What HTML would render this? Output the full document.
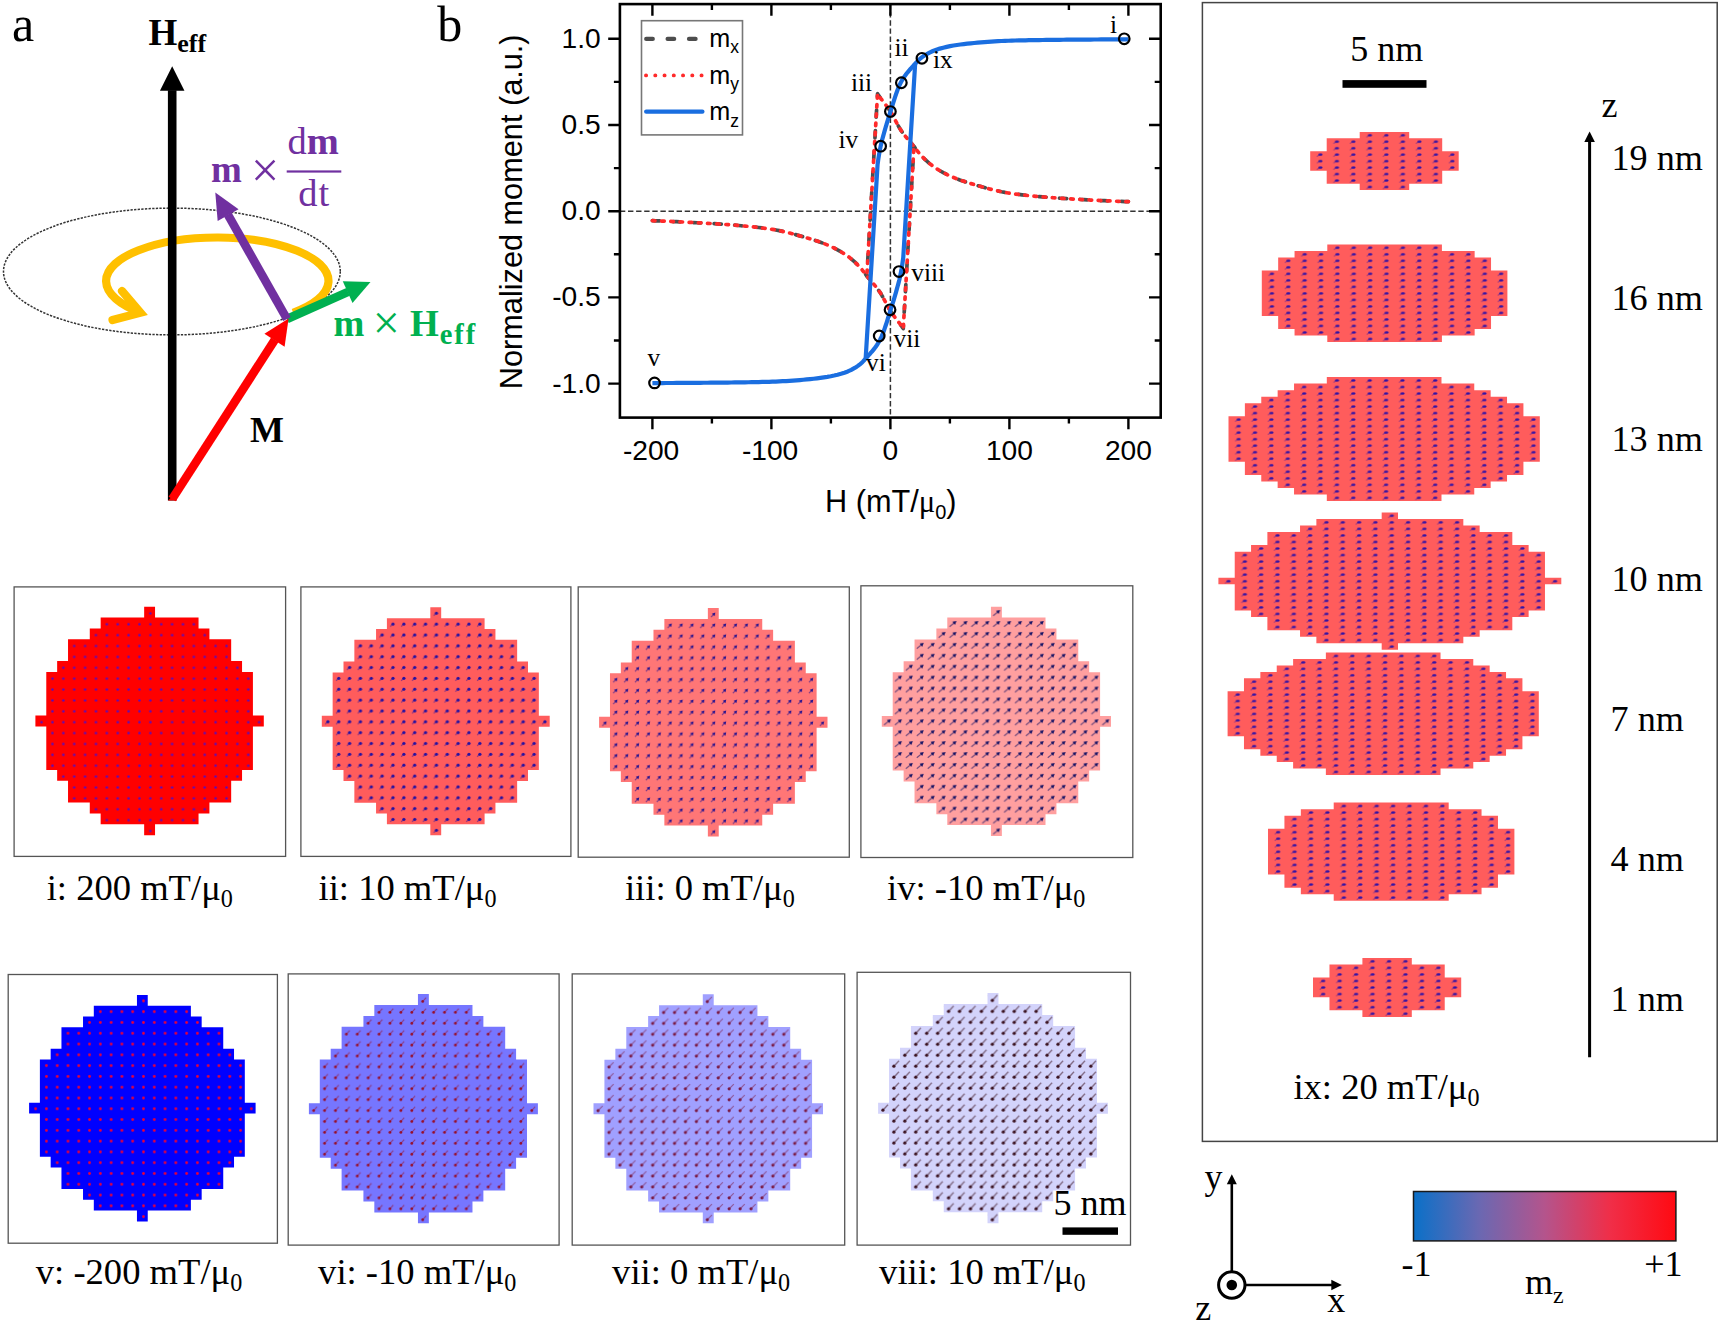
<!DOCTYPE html>
<html lang="en"><head><meta charset="utf-8"><title>Figure</title>
<style>html,body{margin:0;padding:0;background:#fff}svg{display:block}</style></head>
<body>
<svg width="1720" height="1324" viewBox="0 0 1720 1324">
<rect width="1720" height="1324" fill="#fff"/>
<defs>
<pattern id="p1" patternUnits="userSpaceOnUse" x="36.15" y="607.95" width="10.8762" height="10.8810"><ellipse cx="5.44" cy="5.44" rx="1.25" ry="1.25" fill="#5c0cb8"/></pattern>
<pattern id="p2" patternUnits="userSpaceOnUse" x="321.1" y="608.95" width="10.8524" height="10.8524"><line x1="4.03" y1="6.58" x2="6.83" y2="4.28" stroke="#2410a0" stroke-width="1.2" opacity="0.5"/><ellipse cx="6.83" cy="4.28" rx="1.6" ry="1.6" fill="#2410a0"/></pattern>
<pattern id="p3" patternUnits="userSpaceOnUse" x="598.45" y="610.05" width="10.8762" height="10.8762"><line x1="3.89" y1="7.09" x2="6.99" y2="3.79" stroke="#22108e" stroke-width="1.2" opacity="0.6"/><polygon points="8.23,2.47 7.29,6.11 4.65,3.63" fill="#22108e"/></pattern>
<pattern id="p4" patternUnits="userSpaceOnUse" x="881.3" y="608.1" width="10.9143" height="10.9190"><line x1="2.76" y1="7.66" x2="8.16" y2="3.26" stroke="#161264" stroke-width="1.2" opacity="0.6"/><polygon points="9.73,1.97 8.15,5.89 5.58,2.73" fill="#161264"/></pattern>
<pattern id="p5" patternUnits="userSpaceOnUse" x="30.25" y="995.55" width="10.7857" height="10.7857"><ellipse cx="5.39" cy="5.39" rx="1.4" ry="1.4" fill="#ea0038"/></pattern>
<pattern id="p6" patternUnits="userSpaceOnUse" x="309.9" y="994.1" width="10.9048" height="10.9143"><line x1="7.15" y1="3.56" x2="3.75" y2="7.36" stroke="#960e2a" stroke-width="1.2" opacity="0.55"/><ellipse cx="3.75" cy="7.36" rx="1.4" ry="1.4" fill="#960e2a"/></pattern>
<pattern id="p7" patternUnits="userSpaceOnUse" x="594.88" y="993.8" width="10.9286" height="10.9048"><line x1="7.79" y1="3.1" x2="3.14" y2="7.8" stroke="#7a1a44" stroke-width="1.15" opacity="0.55"/><ellipse cx="3.14" cy="7.8" rx="1.6" ry="1.6" fill="#7a1a44"/></pattern>
<pattern id="p8" patternUnits="userSpaceOnUse" x="880" y="992.27" width="10.9429" height="10.9667"><line x1="8.02" y1="2.81" x2="2.92" y2="8.16" stroke="#3a1220" stroke-width="1.3" opacity="0.55"/><ellipse cx="2.92" cy="8.16" rx="1.6" ry="1.6" fill="#3a1220"/></pattern>
<pattern id="p9" patternUnits="userSpaceOnUse" x="1310.4" y="132.95" width="16.5000" height="6.4667"><line x1="6.45" y1="4.08" x2="10.05" y2="2.38" stroke="#3212a4" stroke-width="1" opacity="0.5"/><ellipse cx="10.05" cy="2.38" rx="2.18" ry="1.15" fill="#3212a4"/></pattern>
<pattern id="p10" patternUnits="userSpaceOnUse" x="1262" y="245.45" width="16.3733" height="6.5133"><line x1="6.39" y1="4.11" x2="9.99" y2="2.41" stroke="#3212a4" stroke-width="1" opacity="0.5"/><ellipse cx="9.99" cy="2.41" rx="2.18" ry="1.15" fill="#3212a4"/></pattern>
<pattern id="p11" patternUnits="userSpaceOnUse" x="1228.7" y="378.15" width="16.3842" height="6.5211"><line x1="6.39" y1="4.11" x2="9.99" y2="2.41" stroke="#3212a4" stroke-width="1" opacity="0.5"/><ellipse cx="9.99" cy="2.41" rx="2.18" ry="1.15" fill="#3212a4"/></pattern>
<pattern id="p12" patternUnits="userSpaceOnUse" x="1218.6" y="513.45" width="16.3286" height="6.5429"><line x1="6.36" y1="4.12" x2="9.96" y2="2.42" stroke="#3212a4" stroke-width="1" opacity="0.5"/><ellipse cx="9.96" cy="2.42" rx="2.18" ry="1.15" fill="#3212a4"/></pattern>
<pattern id="p13" patternUnits="userSpaceOnUse" x="1227.8" y="653.65" width="16.3789" height="6.4421"><line x1="6.39" y1="4.07" x2="9.99" y2="2.37" stroke="#3212a4" stroke-width="1" opacity="0.5"/><ellipse cx="9.99" cy="2.37" rx="2.18" ry="1.15" fill="#3212a4"/></pattern>
<pattern id="p14" patternUnits="userSpaceOnUse" x="1268.2" y="803.65" width="16.4267" height="6.5467"><line x1="6.41" y1="4.12" x2="10.01" y2="2.42" stroke="#3212a4" stroke-width="1" opacity="0.5"/><ellipse cx="10.01" cy="2.42" rx="2.18" ry="1.15" fill="#3212a4"/></pattern>
<pattern id="p15" patternUnits="userSpaceOnUse" x="1313.2" y="958.95" width="16.4667" height="6.5556"><line x1="6.43" y1="4.13" x2="10.03" y2="2.43" stroke="#3212a4" stroke-width="1" opacity="0.5"/><ellipse cx="10.03" cy="2.43" rx="2.18" ry="1.15" fill="#3212a4"/></pattern>
<linearGradient id="cb" x1="0" x2="1" y1="0" y2="0"><stop offset="0" stop-color="#0a70c8"/><stop offset="0.25" stop-color="#6a68b2"/><stop offset="0.5" stop-color="#b4548c"/><stop offset="0.75" stop-color="#f02e48"/><stop offset="1" stop-color="#ff0a12"/></linearGradient>
</defs>
<!-- panel_a -->
<text x="12" y="40.5" font-family='"Liberation Serif", serif' font-size="50">a</text>
<text x="148.5" y="45" font-family='"Liberation Serif", serif' font-size="37" font-weight="bold">H<tspan font-size="26" dy="7">eff</tspan></text>
<ellipse cx="171.9" cy="271.5" rx="168.4" ry="63.4" fill="none" stroke="#333" stroke-width="1.5" stroke-dasharray="2.3 1.3"/>
<path d="M293.14 312.81 A111.2 43.5 0 1 0 140.05 312.29" fill="none" stroke="#FFC000" stroke-width="8.2" stroke-linecap="butt"/>
<path d="M122 291 L140.5 312.6 L112.5 320" fill="none" stroke="#FFC000" stroke-width="8.2" stroke-linecap="round" stroke-linejoin="miter" stroke-miterlimit="10"/>
<line x1="172.2" y1="500.5" x2="172.2" y2="90.3" stroke="#000" stroke-width="8.6"/>
<polygon points="172.2,66.3 184.45,90.8 159.95,90.8" fill="#000"/>
<line x1="287" y1="319" x2="348.1" y2="291.93" stroke="#00B050" stroke-width="8.6"/>
<polygon points="370.5,282 352.5,303.1 342.78,281.16" fill="#00B050"/>
<line x1="172.2" y1="499" x2="274.78" y2="339.93" stroke="#FF0000" stroke-width="8.6"/>
<polygon points="288.6,318.5 284.59,346.85 264.42,333.85" fill="#FF0000"/>
<polygon points="168,500.6 176.5,500.6 176.5,492" fill="#FF0000"/>
<line x1="287" y1="319" x2="227.87" y2="214.68" stroke="#7030A0" stroke-width="8.6"/>
<polygon points="215.3,192.5 238.56,209.2 217.68,221.04" fill="#7030A0"/>
<text x="211" y="182" font-family='"Liberation Serif", serif' font-size="37" font-weight="bold" fill="#7030A0">m</text>
<text x="251" y="186.5" font-family='"Liberation Serif", serif' font-size="50" fill="#7030A0">×</text>
<rect x="286.7" y="170.4" width="54.6" height="2.2" fill="#7030A0"/>
<text x="287.6" y="154" font-family='"Liberation Serif", serif' font-size="38.5" fill="#7030A0">d<tspan font-weight="bold">m</tspan></text>
<text x="298.3" y="206" font-family='"Liberation Serif", serif' font-size="38.5" fill="#7030A0" letter-spacing="1">dt</text>
<text x="250" y="441.6" font-family='"Liberation Serif", serif' font-size="36" font-weight="bold">M</text>
<text x="333.5" y="336.3" font-family='"Liberation Serif", serif' font-size="37" font-weight="bold" fill="#00B050">m<tspan font-weight="normal" font-size="48" dx="8.5" dy="3">×</tspan><tspan dx="10" dy="-3">H</tspan><tspan font-size="28.5" dy="7.7" dx="1" letter-spacing="1.9">eff</tspan></text>
<!-- panel_b -->
<text x="437.3" y="40.5" font-family='"Liberation Serif", serif' font-size="50">b</text>
<line x1="619.9" y1="211.2" x2="1160.7" y2="211.2" stroke="#333" stroke-width="1.5" stroke-dasharray="5.4 2.7"/>
<line x1="890.4" y1="4.1" x2="890.4" y2="417.6" stroke="#333" stroke-width="1.5" stroke-dasharray="5.4 2.7"/>
<path d="M1128.4 201.72 L1124.97 201.59 L1121.54 201.46 L1118.11 201.32 L1114.68 201.18 L1111.26 201.03 L1107.83 200.87 L1104.4 200.71 L1100.97 200.55 L1097.54 200.38 L1094.11 200.21 L1090.68 200.03 L1087.25 199.85 L1083.83 199.66 L1080.4 199.48 L1076.97 199.29 L1073.54 199.09 L1070.11 198.89 L1066.68 198.68 L1063.25 198.46 L1059.82 198.24 L1056.39 198 L1052.97 197.75 L1049.54 197.49 L1046.11 197.22 L1042.68 196.93 L1039.25 196.64 L1035.82 196.32 L1032.39 195.99 L1028.96 195.65 L1025.54 195.27 L1022.11 194.88 L1018.68 194.46 L1015.25 194.01 L1011.82 193.53 L1008.39 193.02 L1004.96 192.43 L1001.53 191.77 L998.11 191.03 L994.68 190.23 L991.25 189.37 L987.82 188.47 L984.39 187.53 L980.96 186.55 L977.53 185.56 L974.1 184.54 L970.67 183.52 L967.25 182.47 L963.82 181.36 L960.39 180.17 L956.96 178.9 L953.53 177.51 L950.1 176.01 L946.67 174.38 L943.24 172.6 L939.82 170.65 L936.39 168.53 L932.96 166.19 L929.53 163.5 L926.1 160.44 L924.91 159.3 L924.11 158.51 L923.3 157.71 L922.5 156.89 L921.7 156.06 L920.9 155.21 L920.09 154.31 L919.29 153.35 L918.49 152.35 L917.69 151.33 L916.88 150.29 L916.08 149.24 L915.28 148.19 L914.47 147.15 L913.67 146.14 L912.87 145.15 L912.07 144.18 L911.26 143.23 L910.46 142.29 L909.66 141.35 L908.86 140.41 L908.05 139.46 L907.25 138.51 L906.45 137.55 L905.64 136.57 L904.84 135.57 L904.04 134.55 L903.24 133.49 L902.43 132.4 L901.63 131.27 L900.83 130.1 L900.02 128.84 L899.22 127.5 L898.42 126.1 L897.62 124.65 L896.81 123.16 L896.01 121.64 L895.21 120.12 L894.41 118.6 L893.6 117.1 L892.8 115.62 L892 114.2 L891.19 112.83 L890.39 111.54 L889.59 110.31 L888.79 109.11 L887.98 107.95 L887.18 106.82 L886.38 105.71 L885.58 104.62 L884.77 103.54 L883.97 102.48 L883.17 101.47 L882.36 100.48 L881.56 99.48 L880.76 98.44 L879.96 97.33 L879.15 96.19 L878.35 95.01 L877.55 93.8 L866.84 275.9" fill="none" stroke="#4d4d4d" stroke-width="3.7" stroke-dasharray="7.2 13.4" stroke-linecap="round" stroke-linejoin="round"/>
<path d="M652.4 220.68 L655.83 220.81 L659.26 220.94 L662.69 221.08 L666.12 221.22 L669.54 221.37 L672.97 221.53 L676.4 221.69 L679.83 221.85 L683.26 222.02 L686.69 222.19 L690.12 222.37 L693.55 222.55 L696.97 222.74 L700.4 222.92 L703.83 223.11 L707.26 223.31 L710.69 223.51 L714.12 223.72 L717.55 223.94 L720.98 224.16 L724.41 224.4 L727.83 224.65 L731.26 224.91 L734.69 225.18 L738.12 225.47 L741.55 225.76 L744.98 226.08 L748.41 226.41 L751.84 226.75 L755.26 227.13 L758.69 227.52 L762.12 227.94 L765.55 228.39 L768.98 228.87 L772.41 229.38 L775.84 229.97 L779.27 230.63 L782.69 231.37 L786.12 232.17 L789.55 233.03 L792.98 233.93 L796.41 234.87 L799.84 235.85 L803.27 236.84 L806.7 237.86 L810.13 238.88 L813.55 239.93 L816.98 241.04 L820.41 242.23 L823.84 243.5 L827.27 244.89 L830.7 246.39 L834.13 248.02 L837.56 249.8 L840.98 251.75 L844.41 253.87 L847.84 256.21 L851.27 258.9 L854.7 261.96 L855.89 263.1 L856.69 263.89 L857.5 264.69 L858.3 265.51 L859.1 266.34 L859.9 267.19 L860.71 268.09 L861.51 269.05 L862.31 270.05 L863.11 271.07 L863.92 272.11 L864.72 273.16 L865.52 274.21 L866.33 275.25 L867.13 276.26 L867.93 277.25 L868.73 278.22 L869.54 279.17 L870.34 280.11 L871.14 281.05 L871.94 281.99 L872.75 282.94 L873.55 283.89 L874.35 284.85 L875.16 285.83 L875.96 286.83 L876.76 287.85 L877.56 288.91 L878.37 290 L879.17 291.13 L879.97 292.3 L880.78 293.56 L881.58 294.9 L882.38 296.3 L883.18 297.75 L883.99 299.24 L884.79 300.76 L885.59 302.28 L886.39 303.8 L887.2 305.3 L888 306.78 L888.8 308.2 L889.61 309.57 L890.41 310.86 L891.21 312.09 L892.01 313.29 L892.82 314.45 L893.62 315.58 L894.42 316.69 L895.22 317.78 L896.03 318.86 L896.83 319.92 L897.63 320.93 L898.44 321.92 L899.24 322.92 L900.04 323.96 L900.84 325.07 L901.65 326.21 L902.45 327.39 L903.25 328.6 L913.96 146.5" fill="none" stroke="#4d4d4d" stroke-width="3.7" stroke-dasharray="7.2 13.4" stroke-linecap="round" stroke-linejoin="round"/>
<path d="M1128.4 201.72 L1124.97 201.59 L1121.54 201.46 L1118.11 201.32 L1114.68 201.18 L1111.26 201.03 L1107.83 200.87 L1104.4 200.71 L1100.97 200.55 L1097.54 200.38 L1094.11 200.21 L1090.68 200.03 L1087.25 199.85 L1083.83 199.66 L1080.4 199.48 L1076.97 199.29 L1073.54 199.09 L1070.11 198.89 L1066.68 198.68 L1063.25 198.46 L1059.82 198.24 L1056.39 198 L1052.97 197.75 L1049.54 197.49 L1046.11 197.22 L1042.68 196.93 L1039.25 196.64 L1035.82 196.32 L1032.39 195.99 L1028.96 195.65 L1025.54 195.27 L1022.11 194.88 L1018.68 194.46 L1015.25 194.01 L1011.82 193.53 L1008.39 193.02 L1004.96 192.43 L1001.53 191.77 L998.11 191.03 L994.68 190.23 L991.25 189.37 L987.82 188.47 L984.39 187.53 L980.96 186.55 L977.53 185.56 L974.1 184.54 L970.67 183.52 L967.25 182.47 L963.82 181.36 L960.39 180.17 L956.96 178.9 L953.53 177.51 L950.1 176.01 L946.67 174.38 L943.24 172.6 L939.82 170.65 L936.39 168.53 L932.96 166.19 L929.53 163.5 L926.1 160.44 L924.91 159.3 L924.11 158.51 L923.3 157.71 L922.5 156.89 L921.7 156.06 L920.9 155.21 L920.09 154.31 L919.29 153.35 L918.49 152.35 L917.69 151.33 L916.88 150.29 L916.08 149.24 L915.28 148.19 L914.47 147.15 L913.67 146.14 L912.87 145.15 L912.07 144.18 L911.26 143.23 L910.46 142.29 L909.66 141.35 L908.86 140.41 L908.05 139.46 L907.25 138.51 L906.45 137.55 L905.64 136.57 L904.84 135.57 L904.04 134.55 L903.24 133.49 L902.43 132.4 L901.63 131.27 L900.83 130.1 L900.02 128.84 L899.22 127.5 L898.42 126.1 L897.62 124.65 L896.81 123.16 L896.01 121.64 L895.21 120.12 L894.41 118.6 L893.6 117.1 L892.8 115.62 L892 114.2 L891.19 112.83 L890.39 111.54 L889.59 110.31 L888.79 109.11 L887.98 107.95 L887.18 106.82 L886.38 105.71 L885.58 104.62 L884.77 103.54 L883.97 102.48 L883.17 101.47 L882.36 100.48 L881.56 99.48 L880.76 98.44 L879.96 97.33 L879.15 96.19 L878.35 95.01 L877.55 93.8 L866.84 275.9" fill="none" stroke="#ff2a2a" stroke-width="3.7" stroke-dasharray="2.6 6.6" stroke-linecap="round" stroke-linejoin="round"/>
<path d="M652.4 220.68 L655.83 220.81 L659.26 220.94 L662.69 221.08 L666.12 221.22 L669.54 221.37 L672.97 221.53 L676.4 221.69 L679.83 221.85 L683.26 222.02 L686.69 222.19 L690.12 222.37 L693.55 222.55 L696.97 222.74 L700.4 222.92 L703.83 223.11 L707.26 223.31 L710.69 223.51 L714.12 223.72 L717.55 223.94 L720.98 224.16 L724.41 224.4 L727.83 224.65 L731.26 224.91 L734.69 225.18 L738.12 225.47 L741.55 225.76 L744.98 226.08 L748.41 226.41 L751.84 226.75 L755.26 227.13 L758.69 227.52 L762.12 227.94 L765.55 228.39 L768.98 228.87 L772.41 229.38 L775.84 229.97 L779.27 230.63 L782.69 231.37 L786.12 232.17 L789.55 233.03 L792.98 233.93 L796.41 234.87 L799.84 235.85 L803.27 236.84 L806.7 237.86 L810.13 238.88 L813.55 239.93 L816.98 241.04 L820.41 242.23 L823.84 243.5 L827.27 244.89 L830.7 246.39 L834.13 248.02 L837.56 249.8 L840.98 251.75 L844.41 253.87 L847.84 256.21 L851.27 258.9 L854.7 261.96 L855.89 263.1 L856.69 263.89 L857.5 264.69 L858.3 265.51 L859.1 266.34 L859.9 267.19 L860.71 268.09 L861.51 269.05 L862.31 270.05 L863.11 271.07 L863.92 272.11 L864.72 273.16 L865.52 274.21 L866.33 275.25 L867.13 276.26 L867.93 277.25 L868.73 278.22 L869.54 279.17 L870.34 280.11 L871.14 281.05 L871.94 281.99 L872.75 282.94 L873.55 283.89 L874.35 284.85 L875.16 285.83 L875.96 286.83 L876.76 287.85 L877.56 288.91 L878.37 290 L879.17 291.13 L879.97 292.3 L880.78 293.56 L881.58 294.9 L882.38 296.3 L883.18 297.75 L883.99 299.24 L884.79 300.76 L885.59 302.28 L886.39 303.8 L887.2 305.3 L888 306.78 L888.8 308.2 L889.61 309.57 L890.41 310.86 L891.21 312.09 L892.01 313.29 L892.82 314.45 L893.62 315.58 L894.42 316.69 L895.22 317.78 L896.03 318.86 L896.83 319.92 L897.63 320.93 L898.44 321.92 L899.24 322.92 L900.04 323.96 L900.84 325.07 L901.65 326.21 L902.45 327.39 L903.25 328.6 L913.96 146.5" fill="none" stroke="#ff2a2a" stroke-width="3.7" stroke-dasharray="2.6 6.6" stroke-linecap="round" stroke-linejoin="round"/>
<path d="M1128.4 39.32 L1124.97 39.34 L1121.54 39.35 L1118.11 39.37 L1114.68 39.38 L1111.26 39.4 L1107.83 39.42 L1104.4 39.44 L1100.97 39.46 L1097.54 39.48 L1094.11 39.5 L1090.68 39.53 L1087.25 39.55 L1083.83 39.57 L1080.4 39.6 L1076.97 39.63 L1073.54 39.65 L1070.11 39.68 L1066.68 39.71 L1063.25 39.74 L1059.82 39.78 L1056.39 39.81 L1052.97 39.85 L1049.54 39.89 L1046.11 39.94 L1042.68 39.98 L1039.25 40.03 L1035.82 40.09 L1032.39 40.15 L1028.96 40.21 L1025.54 40.28 L1022.11 40.35 L1018.68 40.43 L1015.25 40.52 L1011.82 40.62 L1008.39 40.73 L1004.96 40.86 L1001.53 41 L998.11 41.18 L994.68 41.37 L991.25 41.59 L987.82 41.82 L984.39 42.08 L980.96 42.36 L977.53 42.66 L974.1 42.97 L970.67 43.3 L967.25 43.66 L963.82 44.04 L960.39 44.48 L956.96 44.96 L953.53 45.51 L950.1 46.14 L946.67 46.85 L943.24 47.67 L939.82 48.62 L936.39 49.71 L932.96 50.98 L929.53 52.55 L926.1 54.46 L924.91 55.21 L924.11 55.73 L923.3 56.28 L922.5 56.85 L921.7 57.44 L920.9 58.06 L920.09 58.73 L919.29 59.45 L918.49 60.22 L917.69 61.02 L916.88 61.87 L916.08 62.73 L915.28 63.62 L914.47 64.51 L913.67 65.41 L912.87 66.3 L912.07 67.19 L911.26 68.08 L910.46 68.99 L909.66 69.91 L908.86 70.85 L908.05 71.81 L907.25 72.8 L906.45 73.82 L905.64 74.88 L904.84 75.99 L904.04 77.15 L903.24 78.37 L902.43 79.66 L901.63 81.03 L900.83 82.49 L900.02 84.1 L899.22 85.85 L898.42 87.76 L897.62 89.79 L896.81 91.96 L896.01 94.23 L895.21 96.61 L894.41 99.08 L893.6 101.61 L892.8 104.18 L892 106.78 L891.19 109.37 L890.39 111.91 L889.59 114.43 L888.79 116.97 L887.98 119.54 L887.18 122.14 L886.38 124.8 L885.58 127.53 L884.77 130.34 L883.97 133.22 L883.17 136.11 L882.36 139.07 L881.56 142.22 L880.76 145.7 L879.96 149.63 L879.15 154.04 L878.35 159.04 L877.55 164.79 L865.65 358.64" fill="none" stroke="#1a6ee0" stroke-width="4.2" stroke-linejoin="round"/>
<path d="M652.4 383.08 L655.83 383.06 L659.26 383.05 L662.69 383.03 L666.12 383.02 L669.54 383 L672.97 382.98 L676.4 382.96 L679.83 382.94 L683.26 382.92 L686.69 382.9 L690.12 382.87 L693.55 382.85 L696.97 382.83 L700.4 382.8 L703.83 382.77 L707.26 382.75 L710.69 382.72 L714.12 382.69 L717.55 382.66 L720.98 382.62 L724.41 382.59 L727.83 382.55 L731.26 382.51 L734.69 382.46 L738.12 382.42 L741.55 382.37 L744.98 382.31 L748.41 382.25 L751.84 382.19 L755.26 382.12 L758.69 382.05 L762.12 381.97 L765.55 381.88 L768.98 381.78 L772.41 381.67 L775.84 381.54 L779.27 381.4 L782.69 381.22 L786.12 381.03 L789.55 380.81 L792.98 380.58 L796.41 380.32 L799.84 380.04 L803.27 379.74 L806.7 379.43 L810.13 379.1 L813.55 378.74 L816.98 378.36 L820.41 377.92 L823.84 377.44 L827.27 376.89 L830.7 376.26 L834.13 375.55 L837.56 374.73 L840.98 373.78 L844.41 372.69 L847.84 371.42 L851.27 369.85 L854.7 367.94 L855.89 367.19 L856.69 366.67 L857.5 366.12 L858.3 365.55 L859.1 364.96 L859.9 364.34 L860.71 363.67 L861.51 362.95 L862.31 362.18 L863.11 361.38 L863.92 360.53 L864.72 359.67 L865.52 358.78 L866.33 357.89 L867.13 356.99 L867.93 356.1 L868.73 355.21 L869.54 354.32 L870.34 353.41 L871.14 352.49 L871.94 351.55 L872.75 350.59 L873.55 349.6 L874.35 348.58 L875.16 347.52 L875.96 346.41 L876.76 345.25 L877.56 344.03 L878.37 342.74 L879.17 341.37 L879.97 339.91 L880.78 338.3 L881.58 336.55 L882.38 334.64 L883.18 332.61 L883.99 330.44 L884.79 328.17 L885.59 325.79 L886.39 323.32 L887.2 320.79 L888 318.22 L888.8 315.62 L889.61 313.03 L890.41 310.49 L891.21 307.97 L892.01 305.43 L892.82 302.86 L893.62 300.26 L894.42 297.6 L895.22 294.87 L896.03 292.06 L896.83 289.18 L897.63 286.29 L898.44 283.33 L899.24 280.18 L900.04 276.7 L900.84 272.77 L901.65 268.36 L902.45 263.36 L903.25 257.61 L915.15 63.76" fill="none" stroke="#1a6ee0" stroke-width="4.2" stroke-linejoin="round"/>
<rect x="619.9" y="4.1" width="540.8" height="413.5" fill="none" stroke="#000" stroke-width="2.6"/>
<path d="M652.4 417.6 v11.6 M652.4 4.1 v11.6 M711.9 417.6 v6 M711.9 4.1 v6 M771.4 417.6 v11.6 M771.4 4.1 v11.6 M830.9 417.6 v6 M830.9 4.1 v6 M890.4 417.6 v11.6 M890.4 4.1 v11.6 M949.9 417.6 v6 M949.9 4.1 v6 M1009.4 417.6 v11.6 M1009.4 4.1 v11.6 M1068.9 417.6 v6 M1068.9 4.1 v6 M1128.4 417.6 v11.6 M1128.4 4.1 v11.6 M619.9 383.6 h-11.7 M1160.7 383.6 h-11.7 M619.9 340.5 h-6 M1160.7 340.5 h-6 M619.9 297.4 h-11.7 M1160.7 297.4 h-11.7 M619.9 254.3 h-6 M1160.7 254.3 h-6 M619.9 211.2 h-11.7 M1160.7 211.2 h-11.7 M619.9 168.1 h-6 M1160.7 168.1 h-6 M619.9 125 h-11.7 M1160.7 125 h-11.7 M619.9 81.9 h-6 M1160.7 81.9 h-6 M619.9 38.8 h-11.7 M1160.7 38.8 h-11.7" fill="none" stroke="#000" stroke-width="2.4"/>
<text x="651.1" y="460" font-family='"Liberation Sans", sans-serif' font-size="28.2" text-anchor="middle">-200</text>
<text x="770.1" y="460" font-family='"Liberation Sans", sans-serif' font-size="28.2" text-anchor="middle">-100</text>
<text x="890.4" y="460" font-family='"Liberation Sans", sans-serif' font-size="28.2" text-anchor="middle">0</text>
<text x="1009.4" y="460" font-family='"Liberation Sans", sans-serif' font-size="28.2" text-anchor="middle">100</text>
<text x="1128.4" y="460" font-family='"Liberation Sans", sans-serif' font-size="28.2" text-anchor="middle">200</text>
<text x="600.8" y="47.7" font-family='"Liberation Sans", sans-serif' font-size="28.2" text-anchor="end">1.0</text>
<text x="600.8" y="133.9" font-family='"Liberation Sans", sans-serif' font-size="28.2" text-anchor="end">0.5</text>
<text x="600.8" y="220.1" font-family='"Liberation Sans", sans-serif' font-size="28.2" text-anchor="end">0.0</text>
<text x="600.8" y="306.3" font-family='"Liberation Sans", sans-serif' font-size="28.2" text-anchor="end">-0.5</text>
<text x="600.8" y="392.5" font-family='"Liberation Sans", sans-serif' font-size="28.2" text-anchor="end">-1.0</text>
<text x="825" y="511.6" font-family='"Liberation Sans", sans-serif' font-size="30.7">H (mT/<tspan font-family='"Liberation Serif", serif'>μ</tspan><tspan font-size="20" dy="7.5">0</tspan><tspan dy="-7.5">)</tspan></text>
<text transform="translate(522.2 211.8) rotate(-90)" text-anchor="middle" font-family='"Liberation Sans", sans-serif' font-size="30.7">Normalized moment (a.u.)</text>
<rect x="641.5" y="20.7" width="101" height="114.2" fill="#fff" stroke="#777" stroke-width="1.6"/>
<line x1="646.2" y1="38.9" x2="703.8" y2="38.9" stroke="#4d4d4d" stroke-width="4.2" stroke-dasharray="6.6 14.8" stroke-linecap="round"/>
<line x1="646" y1="75.4" x2="704" y2="75.4" stroke="#ff2a2a" stroke-width="3.9" stroke-dasharray="0.1 9.15" stroke-linecap="round"/>
<line x1="646.2" y1="111.7" x2="702.4" y2="111.7" stroke="#1a6ee0" stroke-width="4.3" stroke-linecap="round"/>
<text x="709.3" y="47.1" font-family='"Liberation Sans", sans-serif' font-size="25.2">m<tspan font-size="17.5" dy="6.2">x</tspan></text>
<text x="709.3" y="83.7" font-family='"Liberation Sans", sans-serif' font-size="25.2">m<tspan font-size="17.5" dy="6.2">y</tspan></text>
<text x="709.3" y="120.4" font-family='"Liberation Sans", sans-serif' font-size="25.2">m<tspan font-size="17.5" dy="6.2">z</tspan></text>
<circle cx="1124.23" cy="38.8" r="5.3" fill="none" stroke="#000" stroke-width="2.2"/>
<circle cx="921.93" cy="58.28" r="5.3" fill="none" stroke="#000" stroke-width="2.2"/>
<circle cx="901.35" cy="82.76" r="5.3" fill="none" stroke="#000" stroke-width="2.2"/>
<circle cx="890.4" cy="111.55" r="5.3" fill="none" stroke="#000" stroke-width="2.2"/>
<circle cx="880.64" cy="146.21" r="5.3" fill="none" stroke="#000" stroke-width="2.2"/>
<circle cx="654.54" cy="382.91" r="5.3" fill="none" stroke="#000" stroke-width="2.2"/>
<circle cx="879.21" cy="336.02" r="5.3" fill="none" stroke="#000" stroke-width="2.2"/>
<circle cx="890.04" cy="309.81" r="5.3" fill="none" stroke="#000" stroke-width="2.2"/>
<circle cx="898.97" cy="271.54" r="5.3" fill="none" stroke="#000" stroke-width="2.2"/>
<text x="1110" y="32.9" font-family='"Liberation Serif", serif' font-size="25.4">i</text>
<text x="894.5" y="55.5" font-family='"Liberation Serif", serif' font-size="25.4">ii</text>
<text x="933" y="67.6" font-family='"Liberation Serif", serif' font-size="25.4">ix</text>
<text x="851" y="90.7" font-family='"Liberation Serif", serif' font-size="25.4">iii</text>
<text x="838.5" y="148.4" font-family='"Liberation Serif", serif' font-size="25.4">iv</text>
<text x="647.5" y="366.1" font-family='"Liberation Serif", serif' font-size="25.4">v</text>
<text x="866" y="371.3" font-family='"Liberation Serif", serif' font-size="25.4">vi</text>
<text x="893.5" y="346.8" font-family='"Liberation Serif", serif' font-size="25.4">vii</text>
<text x="911.2" y="281.2" font-family='"Liberation Serif", serif' font-size="25.4">viii</text>
<!-- panel_disks -->
<rect x="14.1" y="586.9" width="271.5" height="269.5" fill="#fff" stroke="#555" stroke-width="1.3"/>
<path d="M155.04 606.7 L155.04 617.58 L198.54 617.58 L198.54 628.46 L209.42 628.46 L209.42 639.34 L231.17 639.34 L231.17 650.22 L231.17 650.22 L231.17 661.1 L242.05 661.1 L242.05 671.99 L252.92 671.99 L252.92 682.87 L252.92 682.87 L252.92 693.75 L252.92 693.75 L252.92 704.63 L252.92 704.63 L252.92 715.51 L263.8 715.51 L263.8 726.39 L252.92 726.39 L252.92 737.27 L252.92 737.27 L252.92 748.15 L252.92 748.15 L252.92 759.03 L252.92 759.03 L252.92 769.91 L242.05 769.91 L242.05 780.8 L231.17 780.8 L231.17 791.68 L231.17 791.68 L231.17 802.56 L209.42 802.56 L209.42 813.44 L198.54 813.44 L198.54 824.32 L155.04 824.32 L155.04 835.2 L144.16 835.2 L144.16 824.32 L100.66 824.32 L100.66 813.44 L89.78 813.44 L89.78 802.56 L68.03 802.56 L68.03 791.68 L68.03 791.68 L68.03 780.8 L57.15 780.8 L57.15 769.91 L46.28 769.91 L46.28 759.03 L46.28 759.03 L46.28 748.15 L46.28 748.15 L46.28 737.27 L46.28 737.27 L46.28 726.39 L35.4 726.39 L35.4 715.51 L46.28 715.51 L46.28 704.63 L46.28 704.63 L46.28 693.75 L46.28 693.75 L46.28 682.87 L46.28 682.87 L46.28 671.99 L57.15 671.99 L57.15 661.1 L68.03 661.1 L68.03 650.22 L68.03 650.22 L68.03 639.34 L89.78 639.34 L89.78 628.46 L100.66 628.46 L100.66 617.58 L144.16 617.58 L144.16 606.7Z" fill="#FF0000"/>
<path d="M155.04 606.7 L155.04 617.58 L198.54 617.58 L198.54 628.46 L209.42 628.46 L209.42 639.34 L231.17 639.34 L231.17 650.22 L231.17 650.22 L231.17 661.1 L242.05 661.1 L242.05 671.99 L252.92 671.99 L252.92 682.87 L252.92 682.87 L252.92 693.75 L252.92 693.75 L252.92 704.63 L252.92 704.63 L252.92 715.51 L263.8 715.51 L263.8 726.39 L252.92 726.39 L252.92 737.27 L252.92 737.27 L252.92 748.15 L252.92 748.15 L252.92 759.03 L252.92 759.03 L252.92 769.91 L242.05 769.91 L242.05 780.8 L231.17 780.8 L231.17 791.68 L231.17 791.68 L231.17 802.56 L209.42 802.56 L209.42 813.44 L198.54 813.44 L198.54 824.32 L155.04 824.32 L155.04 835.2 L144.16 835.2 L144.16 824.32 L100.66 824.32 L100.66 813.44 L89.78 813.44 L89.78 802.56 L68.03 802.56 L68.03 791.68 L68.03 791.68 L68.03 780.8 L57.15 780.8 L57.15 769.91 L46.28 769.91 L46.28 759.03 L46.28 759.03 L46.28 748.15 L46.28 748.15 L46.28 737.27 L46.28 737.27 L46.28 726.39 L35.4 726.39 L35.4 715.51 L46.28 715.51 L46.28 704.63 L46.28 704.63 L46.28 693.75 L46.28 693.75 L46.28 682.87 L46.28 682.87 L46.28 671.99 L57.15 671.99 L57.15 661.1 L68.03 661.1 L68.03 650.22 L68.03 650.22 L68.03 639.34 L89.78 639.34 L89.78 628.46 L100.66 628.46 L100.66 617.58 L144.16 617.58 L144.16 606.7Z" fill="url(#p1)"/>
<text x="46.7" y="899.6" font-family='"Liberation Serif", serif' font-size="36.6">i: 200 mT/μ<tspan font-size="24.16" dy="7.32">0</tspan></text>
<rect x="300.9" y="586.9" width="270" height="269.5" fill="#fff" stroke="#555" stroke-width="1.3"/>
<path d="M441.18 607.3 L441.18 618.15 L484.59 618.15 L484.59 629 L495.44 629 L495.44 639.86 L517.14 639.86 L517.14 650.71 L517.14 650.71 L517.14 661.56 L528 661.56 L528 672.41 L538.85 672.41 L538.85 683.27 L538.85 683.27 L538.85 694.12 L538.85 694.12 L538.85 704.97 L538.85 704.97 L538.85 715.82 L549.7 715.82 L549.7 726.68 L538.85 726.68 L538.85 737.53 L538.85 737.53 L538.85 748.38 L538.85 748.38 L538.85 759.23 L538.85 759.23 L538.85 770.09 L528 770.09 L528 780.94 L517.14 780.94 L517.14 791.79 L517.14 791.79 L517.14 802.64 L495.44 802.64 L495.44 813.5 L484.59 813.5 L484.59 824.35 L441.18 824.35 L441.18 835.2 L430.32 835.2 L430.32 824.35 L386.91 824.35 L386.91 813.5 L376.06 813.5 L376.06 802.64 L354.36 802.64 L354.36 791.79 L354.36 791.79 L354.36 780.94 L343.5 780.94 L343.5 770.09 L332.65 770.09 L332.65 759.23 L332.65 759.23 L332.65 748.38 L332.65 748.38 L332.65 737.53 L332.65 737.53 L332.65 726.68 L321.8 726.68 L321.8 715.82 L332.65 715.82 L332.65 704.97 L332.65 704.97 L332.65 694.12 L332.65 694.12 L332.65 683.27 L332.65 683.27 L332.65 672.41 L343.5 672.41 L343.5 661.56 L354.36 661.56 L354.36 650.71 L354.36 650.71 L354.36 639.86 L376.06 639.86 L376.06 629 L386.91 629 L386.91 618.15 L430.32 618.15 L430.32 607.3Z" fill="#FF5C5C"/>
<path d="M441.18 607.3 L441.18 618.15 L484.59 618.15 L484.59 629 L495.44 629 L495.44 639.86 L517.14 639.86 L517.14 650.71 L517.14 650.71 L517.14 661.56 L528 661.56 L528 672.41 L538.85 672.41 L538.85 683.27 L538.85 683.27 L538.85 694.12 L538.85 694.12 L538.85 704.97 L538.85 704.97 L538.85 715.82 L549.7 715.82 L549.7 726.68 L538.85 726.68 L538.85 737.53 L538.85 737.53 L538.85 748.38 L538.85 748.38 L538.85 759.23 L538.85 759.23 L538.85 770.09 L528 770.09 L528 780.94 L517.14 780.94 L517.14 791.79 L517.14 791.79 L517.14 802.64 L495.44 802.64 L495.44 813.5 L484.59 813.5 L484.59 824.35 L441.18 824.35 L441.18 835.2 L430.32 835.2 L430.32 824.35 L386.91 824.35 L386.91 813.5 L376.06 813.5 L376.06 802.64 L354.36 802.64 L354.36 791.79 L354.36 791.79 L354.36 780.94 L343.5 780.94 L343.5 770.09 L332.65 770.09 L332.65 759.23 L332.65 759.23 L332.65 748.38 L332.65 748.38 L332.65 737.53 L332.65 737.53 L332.65 726.68 L321.8 726.68 L321.8 715.82 L332.65 715.82 L332.65 704.97 L332.65 704.97 L332.65 694.12 L332.65 694.12 L332.65 683.27 L332.65 683.27 L332.65 672.41 L343.5 672.41 L343.5 661.56 L354.36 661.56 L354.36 650.71 L354.36 650.71 L354.36 639.86 L376.06 639.86 L376.06 629 L386.91 629 L386.91 618.15 L430.32 618.15 L430.32 607.3Z" fill="url(#p2)"/>
<text x="318.5" y="899.6" font-family='"Liberation Serif", serif' font-size="36.6">ii: 10 mT/μ<tspan font-size="24.16" dy="7.32">0</tspan></text>
<rect x="578.2" y="586.9" width="271.1" height="270.3" fill="#fff" stroke="#555" stroke-width="1.3"/>
<path d="M718.74 608.1 L718.74 618.98 L762.24 618.98 L762.24 629.85 L773.12 629.85 L773.12 640.73 L794.87 640.73 L794.87 651.6 L794.87 651.6 L794.87 662.48 L805.75 662.48 L805.75 673.36 L816.62 673.36 L816.62 684.23 L816.62 684.23 L816.62 695.11 L816.62 695.11 L816.62 705.99 L816.62 705.99 L816.62 716.86 L827.5 716.86 L827.5 727.74 L816.62 727.74 L816.62 738.61 L816.62 738.61 L816.62 749.49 L816.62 749.49 L816.62 760.37 L816.62 760.37 L816.62 771.24 L805.75 771.24 L805.75 782.12 L794.87 782.12 L794.87 793 L794.87 793 L794.87 803.87 L773.12 803.87 L773.12 814.75 L762.24 814.75 L762.24 825.62 L718.74 825.62 L718.74 836.5 L707.86 836.5 L707.86 825.62 L664.36 825.62 L664.36 814.75 L653.48 814.75 L653.48 803.87 L631.73 803.87 L631.73 793 L631.73 793 L631.73 782.12 L620.85 782.12 L620.85 771.24 L609.98 771.24 L609.98 760.37 L609.98 760.37 L609.98 749.49 L609.98 749.49 L609.98 738.61 L609.98 738.61 L609.98 727.74 L599.1 727.74 L599.1 716.86 L609.98 716.86 L609.98 705.99 L609.98 705.99 L609.98 695.11 L609.98 695.11 L609.98 684.23 L609.98 684.23 L609.98 673.36 L620.85 673.36 L620.85 662.48 L631.73 662.48 L631.73 651.6 L631.73 651.6 L631.73 640.73 L653.48 640.73 L653.48 629.85 L664.36 629.85 L664.36 618.98 L707.86 618.98 L707.86 608.1Z" fill="#FF7676"/>
<path d="M718.74 608.1 L718.74 618.98 L762.24 618.98 L762.24 629.85 L773.12 629.85 L773.12 640.73 L794.87 640.73 L794.87 651.6 L794.87 651.6 L794.87 662.48 L805.75 662.48 L805.75 673.36 L816.62 673.36 L816.62 684.23 L816.62 684.23 L816.62 695.11 L816.62 695.11 L816.62 705.99 L816.62 705.99 L816.62 716.86 L827.5 716.86 L827.5 727.74 L816.62 727.74 L816.62 738.61 L816.62 738.61 L816.62 749.49 L816.62 749.49 L816.62 760.37 L816.62 760.37 L816.62 771.24 L805.75 771.24 L805.75 782.12 L794.87 782.12 L794.87 793 L794.87 793 L794.87 803.87 L773.12 803.87 L773.12 814.75 L762.24 814.75 L762.24 825.62 L718.74 825.62 L718.74 836.5 L707.86 836.5 L707.86 825.62 L664.36 825.62 L664.36 814.75 L653.48 814.75 L653.48 803.87 L631.73 803.87 L631.73 793 L631.73 793 L631.73 782.12 L620.85 782.12 L620.85 771.24 L609.98 771.24 L609.98 760.37 L609.98 760.37 L609.98 749.49 L609.98 749.49 L609.98 738.61 L609.98 738.61 L609.98 727.74 L599.1 727.74 L599.1 716.86 L609.98 716.86 L609.98 705.99 L609.98 705.99 L609.98 695.11 L609.98 695.11 L609.98 684.23 L609.98 684.23 L609.98 673.36 L620.85 673.36 L620.85 662.48 L631.73 662.48 L631.73 651.6 L631.73 651.6 L631.73 640.73 L653.48 640.73 L653.48 629.85 L664.36 629.85 L664.36 618.98 L707.86 618.98 L707.86 608.1Z" fill="url(#p3)"/>
<text x="624.9" y="899.6" font-family='"Liberation Serif", serif' font-size="36.6">iii: 0 mT/μ<tspan font-size="24.16" dy="7.32">0</tspan></text>
<rect x="860.9" y="585.8" width="271.9" height="271.7" fill="#fff" stroke="#555" stroke-width="1.3"/>
<path d="M1001.86 606.7 L1001.86 617.62 L1045.51 617.62 L1045.51 628.54 L1056.43 628.54 L1056.43 639.46 L1078.26 639.46 L1078.26 650.38 L1078.26 650.38 L1078.26 661.3 L1089.17 661.3 L1089.17 672.21 L1100.09 672.21 L1100.09 683.13 L1100.09 683.13 L1100.09 694.05 L1100.09 694.05 L1100.09 704.97 L1100.09 704.97 L1100.09 715.89 L1111 715.89 L1111 726.81 L1100.09 726.81 L1100.09 737.73 L1100.09 737.73 L1100.09 748.65 L1100.09 748.65 L1100.09 759.57 L1100.09 759.57 L1100.09 770.49 L1089.17 770.49 L1089.17 781.4 L1078.26 781.4 L1078.26 792.32 L1078.26 792.32 L1078.26 803.24 L1056.43 803.24 L1056.43 814.16 L1045.51 814.16 L1045.51 825.08 L1001.86 825.08 L1001.86 836 L990.94 836 L990.94 825.08 L947.29 825.08 L947.29 814.16 L936.37 814.16 L936.37 803.24 L914.54 803.24 L914.54 792.32 L914.54 792.32 L914.54 781.4 L903.63 781.4 L903.63 770.49 L892.71 770.49 L892.71 759.57 L892.71 759.57 L892.71 748.65 L892.71 748.65 L892.71 737.73 L892.71 737.73 L892.71 726.81 L881.8 726.81 L881.8 715.89 L892.71 715.89 L892.71 704.97 L892.71 704.97 L892.71 694.05 L892.71 694.05 L892.71 683.13 L892.71 683.13 L892.71 672.21 L903.63 672.21 L903.63 661.3 L914.54 661.3 L914.54 650.38 L914.54 650.38 L914.54 639.46 L936.37 639.46 L936.37 628.54 L947.29 628.54 L947.29 617.62 L990.94 617.62 L990.94 606.7Z" fill="#FF9F9F"/>
<path d="M1001.86 606.7 L1001.86 617.62 L1045.51 617.62 L1045.51 628.54 L1056.43 628.54 L1056.43 639.46 L1078.26 639.46 L1078.26 650.38 L1078.26 650.38 L1078.26 661.3 L1089.17 661.3 L1089.17 672.21 L1100.09 672.21 L1100.09 683.13 L1100.09 683.13 L1100.09 694.05 L1100.09 694.05 L1100.09 704.97 L1100.09 704.97 L1100.09 715.89 L1111 715.89 L1111 726.81 L1100.09 726.81 L1100.09 737.73 L1100.09 737.73 L1100.09 748.65 L1100.09 748.65 L1100.09 759.57 L1100.09 759.57 L1100.09 770.49 L1089.17 770.49 L1089.17 781.4 L1078.26 781.4 L1078.26 792.32 L1078.26 792.32 L1078.26 803.24 L1056.43 803.24 L1056.43 814.16 L1045.51 814.16 L1045.51 825.08 L1001.86 825.08 L1001.86 836 L990.94 836 L990.94 825.08 L947.29 825.08 L947.29 814.16 L936.37 814.16 L936.37 803.24 L914.54 803.24 L914.54 792.32 L914.54 792.32 L914.54 781.4 L903.63 781.4 L903.63 770.49 L892.71 770.49 L892.71 759.57 L892.71 759.57 L892.71 748.65 L892.71 748.65 L892.71 737.73 L892.71 737.73 L892.71 726.81 L881.8 726.81 L881.8 715.89 L892.71 715.89 L892.71 704.97 L892.71 704.97 L892.71 694.05 L892.71 694.05 L892.71 683.13 L892.71 683.13 L892.71 672.21 L903.63 672.21 L903.63 661.3 L914.54 661.3 L914.54 650.38 L914.54 650.38 L914.54 639.46 L936.37 639.46 L936.37 628.54 L947.29 628.54 L947.29 617.62 L990.94 617.62 L990.94 606.7Z" fill="url(#p4)"/>
<text x="887.1" y="899.6" font-family='"Liberation Serif", serif' font-size="36.6">iv: -10 mT/μ<tspan font-size="24.16" dy="7.32">0</tspan></text>
<rect x="8.2" y="974.5" width="269.2" height="268.7" fill="#fff" stroke="#555" stroke-width="1.3"/>
<path d="M147.74 994.9 L147.74 1005.69 L190.89 1005.69 L190.89 1016.47 L201.67 1016.47 L201.67 1027.26 L223.24 1027.26 L223.24 1038.04 L223.24 1038.04 L223.24 1048.83 L234.03 1048.83 L234.03 1059.61 L244.81 1059.61 L244.81 1070.4 L244.81 1070.4 L244.81 1081.19 L244.81 1081.19 L244.81 1091.97 L244.81 1091.97 L244.81 1102.76 L255.6 1102.76 L255.6 1113.54 L244.81 1113.54 L244.81 1124.33 L244.81 1124.33 L244.81 1135.11 L244.81 1135.11 L244.81 1145.9 L244.81 1145.9 L244.81 1156.69 L234.03 1156.69 L234.03 1167.47 L223.24 1167.47 L223.24 1178.26 L223.24 1178.26 L223.24 1189.04 L201.67 1189.04 L201.67 1199.83 L190.89 1199.83 L190.89 1210.61 L147.74 1210.61 L147.74 1221.4 L136.96 1221.4 L136.96 1210.61 L93.81 1210.61 L93.81 1199.83 L83.03 1199.83 L83.03 1189.04 L61.46 1189.04 L61.46 1178.26 L61.46 1178.26 L61.46 1167.47 L50.67 1167.47 L50.67 1156.69 L39.89 1156.69 L39.89 1145.9 L39.89 1145.9 L39.89 1135.11 L39.89 1135.11 L39.89 1124.33 L39.89 1124.33 L39.89 1113.54 L29.1 1113.54 L29.1 1102.76 L39.89 1102.76 L39.89 1091.97 L39.89 1091.97 L39.89 1081.19 L39.89 1081.19 L39.89 1070.4 L39.89 1070.4 L39.89 1059.61 L50.67 1059.61 L50.67 1048.83 L61.46 1048.83 L61.46 1038.04 L61.46 1038.04 L61.46 1027.26 L83.03 1027.26 L83.03 1016.47 L93.81 1016.47 L93.81 1005.69 L136.96 1005.69 L136.96 994.9Z" fill="#0000FF"/>
<path d="M147.74 994.9 L147.74 1005.69 L190.89 1005.69 L190.89 1016.47 L201.67 1016.47 L201.67 1027.26 L223.24 1027.26 L223.24 1038.04 L223.24 1038.04 L223.24 1048.83 L234.03 1048.83 L234.03 1059.61 L244.81 1059.61 L244.81 1070.4 L244.81 1070.4 L244.81 1081.19 L244.81 1081.19 L244.81 1091.97 L244.81 1091.97 L244.81 1102.76 L255.6 1102.76 L255.6 1113.54 L244.81 1113.54 L244.81 1124.33 L244.81 1124.33 L244.81 1135.11 L244.81 1135.11 L244.81 1145.9 L244.81 1145.9 L244.81 1156.69 L234.03 1156.69 L234.03 1167.47 L223.24 1167.47 L223.24 1178.26 L223.24 1178.26 L223.24 1189.04 L201.67 1189.04 L201.67 1199.83 L190.89 1199.83 L190.89 1210.61 L147.74 1210.61 L147.74 1221.4 L136.96 1221.4 L136.96 1210.61 L93.81 1210.61 L93.81 1199.83 L83.03 1199.83 L83.03 1189.04 L61.46 1189.04 L61.46 1178.26 L61.46 1178.26 L61.46 1167.47 L50.67 1167.47 L50.67 1156.69 L39.89 1156.69 L39.89 1145.9 L39.89 1145.9 L39.89 1135.11 L39.89 1135.11 L39.89 1124.33 L39.89 1124.33 L39.89 1113.54 L29.1 1113.54 L29.1 1102.76 L39.89 1102.76 L39.89 1091.97 L39.89 1091.97 L39.89 1081.19 L39.89 1081.19 L39.89 1070.4 L39.89 1070.4 L39.89 1059.61 L50.67 1059.61 L50.67 1048.83 L61.46 1048.83 L61.46 1038.04 L61.46 1038.04 L61.46 1027.26 L83.03 1027.26 L83.03 1016.47 L93.81 1016.47 L93.81 1005.69 L136.96 1005.69 L136.96 994.9Z" fill="url(#p5)"/>
<text x="35.8" y="1284" font-family='"Liberation Serif", serif' font-size="36.6">v: -200 mT/μ<tspan font-size="24.16" dy="7.32">0</tspan></text>
<rect x="288.2" y="973.9" width="270.9" height="271.2" fill="#fff" stroke="#555" stroke-width="1.3"/>
<path d="M428.85 994.1 L428.85 1005.01 L472.47 1005.01 L472.47 1015.93 L483.38 1015.93 L483.38 1026.84 L505.19 1026.84 L505.19 1037.76 L505.19 1037.76 L505.19 1048.67 L516.09 1048.67 L516.09 1059.59 L527 1059.59 L527 1070.5 L527 1070.5 L527 1081.41 L527 1081.41 L527 1092.33 L527 1092.33 L527 1103.24 L537.9 1103.24 L537.9 1114.16 L527 1114.16 L527 1125.07 L527 1125.07 L527 1135.99 L527 1135.99 L527 1146.9 L527 1146.9 L527 1157.81 L516.09 1157.81 L516.09 1168.73 L505.19 1168.73 L505.19 1179.64 L505.19 1179.64 L505.19 1190.56 L483.38 1190.56 L483.38 1201.47 L472.47 1201.47 L472.47 1212.39 L428.85 1212.39 L428.85 1223.3 L417.95 1223.3 L417.95 1212.39 L374.33 1212.39 L374.33 1201.47 L363.42 1201.47 L363.42 1190.56 L341.61 1190.56 L341.61 1179.64 L341.61 1179.64 L341.61 1168.73 L330.71 1168.73 L330.71 1157.81 L319.8 1157.81 L319.8 1146.9 L319.8 1146.9 L319.8 1135.99 L319.8 1135.99 L319.8 1125.07 L319.8 1125.07 L319.8 1114.16 L308.9 1114.16 L308.9 1103.24 L319.8 1103.24 L319.8 1092.33 L319.8 1092.33 L319.8 1081.41 L319.8 1081.41 L319.8 1070.5 L319.8 1070.5 L319.8 1059.59 L330.71 1059.59 L330.71 1048.67 L341.61 1048.67 L341.61 1037.76 L341.61 1037.76 L341.61 1026.84 L363.42 1026.84 L363.42 1015.93 L374.33 1015.93 L374.33 1005.01 L417.95 1005.01 L417.95 994.1Z" fill="#7676FF"/>
<path d="M428.85 994.1 L428.85 1005.01 L472.47 1005.01 L472.47 1015.93 L483.38 1015.93 L483.38 1026.84 L505.19 1026.84 L505.19 1037.76 L505.19 1037.76 L505.19 1048.67 L516.09 1048.67 L516.09 1059.59 L527 1059.59 L527 1070.5 L527 1070.5 L527 1081.41 L527 1081.41 L527 1092.33 L527 1092.33 L527 1103.24 L537.9 1103.24 L537.9 1114.16 L527 1114.16 L527 1125.07 L527 1125.07 L527 1135.99 L527 1135.99 L527 1146.9 L527 1146.9 L527 1157.81 L516.09 1157.81 L516.09 1168.73 L505.19 1168.73 L505.19 1179.64 L505.19 1179.64 L505.19 1190.56 L483.38 1190.56 L483.38 1201.47 L472.47 1201.47 L472.47 1212.39 L428.85 1212.39 L428.85 1223.3 L417.95 1223.3 L417.95 1212.39 L374.33 1212.39 L374.33 1201.47 L363.42 1201.47 L363.42 1190.56 L341.61 1190.56 L341.61 1179.64 L341.61 1179.64 L341.61 1168.73 L330.71 1168.73 L330.71 1157.81 L319.8 1157.81 L319.8 1146.9 L319.8 1146.9 L319.8 1135.99 L319.8 1135.99 L319.8 1125.07 L319.8 1125.07 L319.8 1114.16 L308.9 1114.16 L308.9 1103.24 L319.8 1103.24 L319.8 1092.33 L319.8 1092.33 L319.8 1081.41 L319.8 1081.41 L319.8 1070.5 L319.8 1070.5 L319.8 1059.59 L330.71 1059.59 L330.71 1048.67 L341.61 1048.67 L341.61 1037.76 L341.61 1037.76 L341.61 1026.84 L363.42 1026.84 L363.42 1015.93 L374.33 1015.93 L374.33 1005.01 L417.95 1005.01 L417.95 994.1Z" fill="url(#p6)"/>
<text x="318.1" y="1284" font-family='"Liberation Serif", serif' font-size="36.6">vi: -10 mT/μ<tspan font-size="24.16" dy="7.32">0</tspan></text>
<rect x="572.2" y="973.9" width="272.5" height="271.2" fill="#fff" stroke="#555" stroke-width="1.3"/>
<path d="M713.71 994.3 L713.71 1005.2 L757.43 1005.2 L757.43 1016.11 L768.36 1016.11 L768.36 1027.01 L790.21 1027.01 L790.21 1037.92 L790.21 1037.92 L790.21 1048.82 L801.14 1048.82 L801.14 1059.73 L812.07 1059.73 L812.07 1070.63 L812.07 1070.63 L812.07 1081.54 L812.07 1081.54 L812.07 1092.44 L812.07 1092.44 L812.07 1103.35 L823 1103.35 L823 1114.25 L812.07 1114.25 L812.07 1125.16 L812.07 1125.16 L812.07 1136.06 L812.07 1136.06 L812.07 1146.97 L812.07 1146.97 L812.07 1157.87 L801.14 1157.87 L801.14 1168.78 L790.21 1168.78 L790.21 1179.68 L790.21 1179.68 L790.21 1190.59 L768.36 1190.59 L768.36 1201.49 L757.43 1201.49 L757.43 1212.4 L713.71 1212.4 L713.71 1223.3 L702.79 1223.3 L702.79 1212.4 L659.07 1212.4 L659.07 1201.49 L648.14 1201.49 L648.14 1190.59 L626.29 1190.59 L626.29 1179.68 L626.29 1179.68 L626.29 1168.78 L615.36 1168.78 L615.36 1157.87 L604.43 1157.87 L604.43 1146.97 L604.43 1146.97 L604.43 1136.06 L604.43 1136.06 L604.43 1125.16 L604.43 1125.16 L604.43 1114.25 L593.5 1114.25 L593.5 1103.35 L604.43 1103.35 L604.43 1092.44 L604.43 1092.44 L604.43 1081.54 L604.43 1081.54 L604.43 1070.63 L604.43 1070.63 L604.43 1059.73 L615.36 1059.73 L615.36 1048.82 L626.29 1048.82 L626.29 1037.92 L626.29 1037.92 L626.29 1027.01 L648.14 1027.01 L648.14 1016.11 L659.07 1016.11 L659.07 1005.2 L702.79 1005.2 L702.79 994.3Z" fill="#A0A0FF"/>
<path d="M713.71 994.3 L713.71 1005.2 L757.43 1005.2 L757.43 1016.11 L768.36 1016.11 L768.36 1027.01 L790.21 1027.01 L790.21 1037.92 L790.21 1037.92 L790.21 1048.82 L801.14 1048.82 L801.14 1059.73 L812.07 1059.73 L812.07 1070.63 L812.07 1070.63 L812.07 1081.54 L812.07 1081.54 L812.07 1092.44 L812.07 1092.44 L812.07 1103.35 L823 1103.35 L823 1114.25 L812.07 1114.25 L812.07 1125.16 L812.07 1125.16 L812.07 1136.06 L812.07 1136.06 L812.07 1146.97 L812.07 1146.97 L812.07 1157.87 L801.14 1157.87 L801.14 1168.78 L790.21 1168.78 L790.21 1179.68 L790.21 1179.68 L790.21 1190.59 L768.36 1190.59 L768.36 1201.49 L757.43 1201.49 L757.43 1212.4 L713.71 1212.4 L713.71 1223.3 L702.79 1223.3 L702.79 1212.4 L659.07 1212.4 L659.07 1201.49 L648.14 1201.49 L648.14 1190.59 L626.29 1190.59 L626.29 1179.68 L626.29 1179.68 L626.29 1168.78 L615.36 1168.78 L615.36 1157.87 L604.43 1157.87 L604.43 1146.97 L604.43 1146.97 L604.43 1136.06 L604.43 1136.06 L604.43 1125.16 L604.43 1125.16 L604.43 1114.25 L593.5 1114.25 L593.5 1103.35 L604.43 1103.35 L604.43 1092.44 L604.43 1092.44 L604.43 1081.54 L604.43 1081.54 L604.43 1070.63 L604.43 1070.63 L604.43 1059.73 L615.36 1059.73 L615.36 1048.82 L626.29 1048.82 L626.29 1037.92 L626.29 1037.92 L626.29 1027.01 L648.14 1027.01 L648.14 1016.11 L659.07 1016.11 L659.07 1005.2 L702.79 1005.2 L702.79 994.3Z" fill="url(#p7)"/>
<text x="612.1" y="1284" font-family='"Liberation Serif", serif' font-size="36.6">vii: 0 mT/μ<tspan font-size="24.16" dy="7.32">0</tspan></text>
<rect x="857.1" y="972.3" width="273.4" height="272.8" fill="#fff" stroke="#555" stroke-width="1.3"/>
<path d="M998.47 993 L998.47 1003.97 L1042.24 1003.97 L1042.24 1014.93 L1053.19 1014.93 L1053.19 1025.9 L1075.07 1025.9 L1075.07 1036.87 L1075.07 1036.87 L1075.07 1047.83 L1086.01 1047.83 L1086.01 1058.8 L1096.96 1058.8 L1096.96 1069.77 L1096.96 1069.77 L1096.96 1080.73 L1096.96 1080.73 L1096.96 1091.7 L1096.96 1091.7 L1096.96 1102.67 L1107.9 1102.67 L1107.9 1113.63 L1096.96 1113.63 L1096.96 1124.6 L1096.96 1124.6 L1096.96 1135.57 L1096.96 1135.57 L1096.96 1146.53 L1096.96 1146.53 L1096.96 1157.5 L1086.01 1157.5 L1086.01 1168.47 L1075.07 1168.47 L1075.07 1179.43 L1075.07 1179.43 L1075.07 1190.4 L1053.19 1190.4 L1053.19 1201.37 L1042.24 1201.37 L1042.24 1212.33 L998.47 1212.33 L998.47 1223.3 L987.53 1223.3 L987.53 1212.33 L943.76 1212.33 L943.76 1201.37 L932.81 1201.37 L932.81 1190.4 L910.93 1190.4 L910.93 1179.43 L910.93 1179.43 L910.93 1168.47 L899.99 1168.47 L899.99 1157.5 L889.04 1157.5 L889.04 1146.53 L889.04 1146.53 L889.04 1135.57 L889.04 1135.57 L889.04 1124.6 L889.04 1124.6 L889.04 1113.63 L878.1 1113.63 L878.1 1102.67 L889.04 1102.67 L889.04 1091.7 L889.04 1091.7 L889.04 1080.73 L889.04 1080.73 L889.04 1069.77 L889.04 1069.77 L889.04 1058.8 L899.99 1058.8 L899.99 1047.83 L910.93 1047.83 L910.93 1036.87 L910.93 1036.87 L910.93 1025.9 L932.81 1025.9 L932.81 1014.93 L943.76 1014.93 L943.76 1003.97 L987.53 1003.97 L987.53 993Z" fill="#D3D3FB"/>
<path d="M998.47 993 L998.47 1003.97 L1042.24 1003.97 L1042.24 1014.93 L1053.19 1014.93 L1053.19 1025.9 L1075.07 1025.9 L1075.07 1036.87 L1075.07 1036.87 L1075.07 1047.83 L1086.01 1047.83 L1086.01 1058.8 L1096.96 1058.8 L1096.96 1069.77 L1096.96 1069.77 L1096.96 1080.73 L1096.96 1080.73 L1096.96 1091.7 L1096.96 1091.7 L1096.96 1102.67 L1107.9 1102.67 L1107.9 1113.63 L1096.96 1113.63 L1096.96 1124.6 L1096.96 1124.6 L1096.96 1135.57 L1096.96 1135.57 L1096.96 1146.53 L1096.96 1146.53 L1096.96 1157.5 L1086.01 1157.5 L1086.01 1168.47 L1075.07 1168.47 L1075.07 1179.43 L1075.07 1179.43 L1075.07 1190.4 L1053.19 1190.4 L1053.19 1201.37 L1042.24 1201.37 L1042.24 1212.33 L998.47 1212.33 L998.47 1223.3 L987.53 1223.3 L987.53 1212.33 L943.76 1212.33 L943.76 1201.37 L932.81 1201.37 L932.81 1190.4 L910.93 1190.4 L910.93 1179.43 L910.93 1179.43 L910.93 1168.47 L899.99 1168.47 L899.99 1157.5 L889.04 1157.5 L889.04 1146.53 L889.04 1146.53 L889.04 1135.57 L889.04 1135.57 L889.04 1124.6 L889.04 1124.6 L889.04 1113.63 L878.1 1113.63 L878.1 1102.67 L889.04 1102.67 L889.04 1091.7 L889.04 1091.7 L889.04 1080.73 L889.04 1080.73 L889.04 1069.77 L889.04 1069.77 L889.04 1058.8 L899.99 1058.8 L899.99 1047.83 L910.93 1047.83 L910.93 1036.87 L910.93 1036.87 L910.93 1025.9 L932.81 1025.9 L932.81 1014.93 L943.76 1014.93 L943.76 1003.97 L987.53 1003.97 L987.53 993Z" fill="url(#p8)"/>
<text x="879.1" y="1284" font-family='"Liberation Serif", serif' font-size="36.6">viii: 10 mT/μ<tspan font-size="24.16" dy="7.32">0</tspan></text>
<text x="1053.5" y="1215.2" font-family='"Liberation Serif", serif' font-size="36">5 nm</text>
<rect x="1062.5" y="1227.4" width="55.5" height="7.4" fill="#000"/>
<!-- panel_ix -->
<rect x="1202.4" y="2.6" width="514.8" height="1138.8" fill="#fff" stroke="#444" stroke-width="1.5"/>
<text x="1350.2" y="60.7" font-family='"Liberation Serif", serif' font-size="36">5 nm</text>
<rect x="1342.5" y="80.1" width="84" height="7.7" fill="#000"/>
<path d="M1409.2 131.9 L1409.2 138.37 L1442.2 138.37 L1442.2 144.83 L1442.2 144.83 L1442.2 151.3 L1458.7 151.3 L1458.7 157.77 L1458.7 157.77 L1458.7 164.23 L1458.7 164.23 L1458.7 170.7 L1442.2 170.7 L1442.2 177.17 L1442.2 177.17 L1442.2 183.63 L1409.2 183.63 L1409.2 190.1 L1359.7 190.1 L1359.7 183.63 L1326.7 183.63 L1326.7 177.17 L1326.7 177.17 L1326.7 170.7 L1310.2 170.7 L1310.2 164.23 L1310.2 164.23 L1310.2 157.77 L1310.2 157.77 L1310.2 151.3 L1326.7 151.3 L1326.7 144.83 L1326.7 144.83 L1326.7 138.37 L1359.7 138.37 L1359.7 131.9Z" fill="#FF5C5C"/>
<path d="M1409.2 131.9 L1409.2 138.37 L1442.2 138.37 L1442.2 144.83 L1442.2 144.83 L1442.2 151.3 L1458.7 151.3 L1458.7 157.77 L1458.7 157.77 L1458.7 164.23 L1458.7 164.23 L1458.7 170.7 L1442.2 170.7 L1442.2 177.17 L1442.2 177.17 L1442.2 183.63 L1409.2 183.63 L1409.2 190.1 L1359.7 190.1 L1359.7 183.63 L1326.7 183.63 L1326.7 177.17 L1326.7 177.17 L1326.7 170.7 L1310.2 170.7 L1310.2 164.23 L1310.2 164.23 L1310.2 157.77 L1310.2 157.77 L1310.2 151.3 L1326.7 151.3 L1326.7 144.83 L1326.7 144.83 L1326.7 138.37 L1359.7 138.37 L1359.7 131.9Z" fill="url(#p9)"/>
<path d="M1441.91 244.4 L1441.91 250.91 L1474.65 250.91 L1474.65 257.43 L1491.03 257.43 L1491.03 263.94 L1491.03 263.94 L1491.03 270.45 L1507.4 270.45 L1507.4 276.97 L1507.4 276.97 L1507.4 283.48 L1507.4 283.48 L1507.4 289.99 L1507.4 289.99 L1507.4 296.51 L1507.4 296.51 L1507.4 303.02 L1507.4 303.02 L1507.4 309.53 L1507.4 309.53 L1507.4 316.05 L1491.03 316.05 L1491.03 322.56 L1491.03 322.56 L1491.03 329.07 L1474.65 329.07 L1474.65 335.59 L1441.91 335.59 L1441.91 342.1 L1327.29 342.1 L1327.29 335.59 L1294.55 335.59 L1294.55 329.07 L1278.17 329.07 L1278.17 322.56 L1278.17 322.56 L1278.17 316.05 L1261.8 316.05 L1261.8 309.53 L1261.8 309.53 L1261.8 303.02 L1261.8 303.02 L1261.8 296.51 L1261.8 296.51 L1261.8 289.99 L1261.8 289.99 L1261.8 283.48 L1261.8 283.48 L1261.8 276.97 L1261.8 276.97 L1261.8 270.45 L1278.17 270.45 L1278.17 263.94 L1278.17 263.94 L1278.17 257.43 L1294.55 257.43 L1294.55 250.91 L1327.29 250.91 L1327.29 244.4Z" fill="#FF5C5C"/>
<path d="M1441.91 244.4 L1441.91 250.91 L1474.65 250.91 L1474.65 257.43 L1491.03 257.43 L1491.03 263.94 L1491.03 263.94 L1491.03 270.45 L1507.4 270.45 L1507.4 276.97 L1507.4 276.97 L1507.4 283.48 L1507.4 283.48 L1507.4 289.99 L1507.4 289.99 L1507.4 296.51 L1507.4 296.51 L1507.4 303.02 L1507.4 303.02 L1507.4 309.53 L1507.4 309.53 L1507.4 316.05 L1491.03 316.05 L1491.03 322.56 L1491.03 322.56 L1491.03 329.07 L1474.65 329.07 L1474.65 335.59 L1441.91 335.59 L1441.91 342.1 L1327.29 342.1 L1327.29 335.59 L1294.55 335.59 L1294.55 329.07 L1278.17 329.07 L1278.17 322.56 L1278.17 322.56 L1278.17 316.05 L1261.8 316.05 L1261.8 309.53 L1261.8 309.53 L1261.8 303.02 L1261.8 303.02 L1261.8 296.51 L1261.8 296.51 L1261.8 289.99 L1261.8 289.99 L1261.8 283.48 L1261.8 283.48 L1261.8 276.97 L1261.8 276.97 L1261.8 270.45 L1278.17 270.45 L1278.17 263.94 L1278.17 263.94 L1278.17 257.43 L1294.55 257.43 L1294.55 250.91 L1327.29 250.91 L1327.29 244.4Z" fill="url(#p10)"/>
<path d="M1441.49 377.1 L1441.49 383.62 L1474.26 383.62 L1474.26 390.14 L1490.65 390.14 L1490.65 396.66 L1507.03 396.66 L1507.03 403.18 L1523.42 403.18 L1523.42 409.71 L1523.42 409.71 L1523.42 416.23 L1539.8 416.23 L1539.8 422.75 L1539.8 422.75 L1539.8 429.27 L1539.8 429.27 L1539.8 435.79 L1539.8 435.79 L1539.8 442.31 L1539.8 442.31 L1539.8 448.83 L1539.8 448.83 L1539.8 455.35 L1539.8 455.35 L1539.8 461.87 L1523.42 461.87 L1523.42 468.39 L1523.42 468.39 L1523.42 474.92 L1507.03 474.92 L1507.03 481.44 L1490.65 481.44 L1490.65 487.96 L1474.26 487.96 L1474.26 494.48 L1441.49 494.48 L1441.49 501 L1326.81 501 L1326.81 494.48 L1294.04 494.48 L1294.04 487.96 L1277.65 487.96 L1277.65 481.44 L1261.27 481.44 L1261.27 474.92 L1244.88 474.92 L1244.88 468.39 L1244.88 468.39 L1244.88 461.87 L1228.5 461.87 L1228.5 455.35 L1228.5 455.35 L1228.5 448.83 L1228.5 448.83 L1228.5 442.31 L1228.5 442.31 L1228.5 435.79 L1228.5 435.79 L1228.5 429.27 L1228.5 429.27 L1228.5 422.75 L1228.5 422.75 L1228.5 416.23 L1244.88 416.23 L1244.88 409.71 L1244.88 409.71 L1244.88 403.18 L1261.27 403.18 L1261.27 396.66 L1277.65 396.66 L1277.65 390.14 L1294.04 390.14 L1294.04 383.62 L1326.81 383.62 L1326.81 377.1Z" fill="#FF5C5C"/>
<path d="M1441.49 377.1 L1441.49 383.62 L1474.26 383.62 L1474.26 390.14 L1490.65 390.14 L1490.65 396.66 L1507.03 396.66 L1507.03 403.18 L1523.42 403.18 L1523.42 409.71 L1523.42 409.71 L1523.42 416.23 L1539.8 416.23 L1539.8 422.75 L1539.8 422.75 L1539.8 429.27 L1539.8 429.27 L1539.8 435.79 L1539.8 435.79 L1539.8 442.31 L1539.8 442.31 L1539.8 448.83 L1539.8 448.83 L1539.8 455.35 L1539.8 455.35 L1539.8 461.87 L1523.42 461.87 L1523.42 468.39 L1523.42 468.39 L1523.42 474.92 L1507.03 474.92 L1507.03 481.44 L1490.65 481.44 L1490.65 487.96 L1474.26 487.96 L1474.26 494.48 L1441.49 494.48 L1441.49 501 L1326.81 501 L1326.81 494.48 L1294.04 494.48 L1294.04 487.96 L1277.65 487.96 L1277.65 481.44 L1261.27 481.44 L1261.27 474.92 L1244.88 474.92 L1244.88 468.39 L1244.88 468.39 L1244.88 461.87 L1228.5 461.87 L1228.5 455.35 L1228.5 455.35 L1228.5 448.83 L1228.5 448.83 L1228.5 442.31 L1228.5 442.31 L1228.5 435.79 L1228.5 435.79 L1228.5 429.27 L1228.5 429.27 L1228.5 422.75 L1228.5 422.75 L1228.5 416.23 L1244.88 416.23 L1244.88 409.71 L1244.88 409.71 L1244.88 403.18 L1261.27 403.18 L1261.27 396.66 L1277.65 396.66 L1277.65 390.14 L1294.04 390.14 L1294.04 383.62 L1326.81 383.62 L1326.81 377.1Z" fill="url(#p11)"/>
<path d="M1398.01 512.4 L1398.01 518.94 L1463.33 518.94 L1463.33 525.49 L1479.66 525.49 L1479.66 532.03 L1512.31 532.03 L1512.31 538.57 L1512.31 538.57 L1512.31 545.11 L1528.64 545.11 L1528.64 551.66 L1544.97 551.66 L1544.97 558.2 L1544.97 558.2 L1544.97 564.74 L1544.97 564.74 L1544.97 571.29 L1544.97 571.29 L1544.97 577.83 L1561.3 577.83 L1561.3 584.37 L1544.97 584.37 L1544.97 590.91 L1544.97 590.91 L1544.97 597.46 L1544.97 597.46 L1544.97 604 L1544.97 604 L1544.97 610.54 L1528.64 610.54 L1528.64 617.09 L1512.31 617.09 L1512.31 623.63 L1512.31 623.63 L1512.31 630.17 L1479.66 630.17 L1479.66 636.71 L1463.33 636.71 L1463.33 643.26 L1398.01 643.26 L1398.01 649.8 L1381.69 649.8 L1381.69 643.26 L1316.37 643.26 L1316.37 636.71 L1300.04 636.71 L1300.04 630.17 L1267.39 630.17 L1267.39 623.63 L1267.39 623.63 L1267.39 617.09 L1251.06 617.09 L1251.06 610.54 L1234.73 610.54 L1234.73 604 L1234.73 604 L1234.73 597.46 L1234.73 597.46 L1234.73 590.91 L1234.73 590.91 L1234.73 584.37 L1218.4 584.37 L1218.4 577.83 L1234.73 577.83 L1234.73 571.29 L1234.73 571.29 L1234.73 564.74 L1234.73 564.74 L1234.73 558.2 L1234.73 558.2 L1234.73 551.66 L1251.06 551.66 L1251.06 545.11 L1267.39 545.11 L1267.39 538.57 L1267.39 538.57 L1267.39 532.03 L1300.04 532.03 L1300.04 525.49 L1316.37 525.49 L1316.37 518.94 L1381.69 518.94 L1381.69 512.4Z" fill="#FF5C5C"/>
<path d="M1398.01 512.4 L1398.01 518.94 L1463.33 518.94 L1463.33 525.49 L1479.66 525.49 L1479.66 532.03 L1512.31 532.03 L1512.31 538.57 L1512.31 538.57 L1512.31 545.11 L1528.64 545.11 L1528.64 551.66 L1544.97 551.66 L1544.97 558.2 L1544.97 558.2 L1544.97 564.74 L1544.97 564.74 L1544.97 571.29 L1544.97 571.29 L1544.97 577.83 L1561.3 577.83 L1561.3 584.37 L1544.97 584.37 L1544.97 590.91 L1544.97 590.91 L1544.97 597.46 L1544.97 597.46 L1544.97 604 L1544.97 604 L1544.97 610.54 L1528.64 610.54 L1528.64 617.09 L1512.31 617.09 L1512.31 623.63 L1512.31 623.63 L1512.31 630.17 L1479.66 630.17 L1479.66 636.71 L1463.33 636.71 L1463.33 643.26 L1398.01 643.26 L1398.01 649.8 L1381.69 649.8 L1381.69 643.26 L1316.37 643.26 L1316.37 636.71 L1300.04 636.71 L1300.04 630.17 L1267.39 630.17 L1267.39 623.63 L1267.39 623.63 L1267.39 617.09 L1251.06 617.09 L1251.06 610.54 L1234.73 610.54 L1234.73 604 L1234.73 604 L1234.73 597.46 L1234.73 597.46 L1234.73 590.91 L1234.73 590.91 L1234.73 584.37 L1218.4 584.37 L1218.4 577.83 L1234.73 577.83 L1234.73 571.29 L1234.73 571.29 L1234.73 564.74 L1234.73 564.74 L1234.73 558.2 L1234.73 558.2 L1234.73 551.66 L1251.06 551.66 L1251.06 545.11 L1267.39 545.11 L1267.39 538.57 L1267.39 538.57 L1267.39 532.03 L1300.04 532.03 L1300.04 525.49 L1316.37 525.49 L1316.37 518.94 L1381.69 518.94 L1381.69 512.4Z" fill="url(#p12)"/>
<path d="M1440.53 652.6 L1440.53 659.04 L1473.28 659.04 L1473.28 665.48 L1489.66 665.48 L1489.66 671.93 L1506.04 671.93 L1506.04 678.37 L1522.42 678.37 L1522.42 684.81 L1522.42 684.81 L1522.42 691.25 L1538.8 691.25 L1538.8 697.69 L1538.8 697.69 L1538.8 704.14 L1538.8 704.14 L1538.8 710.58 L1538.8 710.58 L1538.8 717.02 L1538.8 717.02 L1538.8 723.46 L1538.8 723.46 L1538.8 729.91 L1538.8 729.91 L1538.8 736.35 L1522.42 736.35 L1522.42 742.79 L1522.42 742.79 L1522.42 749.23 L1506.04 749.23 L1506.04 755.67 L1489.66 755.67 L1489.66 762.12 L1473.28 762.12 L1473.28 768.56 L1440.53 768.56 L1440.53 775 L1325.87 775 L1325.87 768.56 L1293.12 768.56 L1293.12 762.12 L1276.74 762.12 L1276.74 755.67 L1260.36 755.67 L1260.36 749.23 L1243.98 749.23 L1243.98 742.79 L1243.98 742.79 L1243.98 736.35 L1227.6 736.35 L1227.6 729.91 L1227.6 729.91 L1227.6 723.46 L1227.6 723.46 L1227.6 717.02 L1227.6 717.02 L1227.6 710.58 L1227.6 710.58 L1227.6 704.14 L1227.6 704.14 L1227.6 697.69 L1227.6 697.69 L1227.6 691.25 L1243.98 691.25 L1243.98 684.81 L1243.98 684.81 L1243.98 678.37 L1260.36 678.37 L1260.36 671.93 L1276.74 671.93 L1276.74 665.48 L1293.12 665.48 L1293.12 659.04 L1325.87 659.04 L1325.87 652.6Z" fill="#FF5C5C"/>
<path d="M1440.53 652.6 L1440.53 659.04 L1473.28 659.04 L1473.28 665.48 L1489.66 665.48 L1489.66 671.93 L1506.04 671.93 L1506.04 678.37 L1522.42 678.37 L1522.42 684.81 L1522.42 684.81 L1522.42 691.25 L1538.8 691.25 L1538.8 697.69 L1538.8 697.69 L1538.8 704.14 L1538.8 704.14 L1538.8 710.58 L1538.8 710.58 L1538.8 717.02 L1538.8 717.02 L1538.8 723.46 L1538.8 723.46 L1538.8 729.91 L1538.8 729.91 L1538.8 736.35 L1522.42 736.35 L1522.42 742.79 L1522.42 742.79 L1522.42 749.23 L1506.04 749.23 L1506.04 755.67 L1489.66 755.67 L1489.66 762.12 L1473.28 762.12 L1473.28 768.56 L1440.53 768.56 L1440.53 775 L1325.87 775 L1325.87 768.56 L1293.12 768.56 L1293.12 762.12 L1276.74 762.12 L1276.74 755.67 L1260.36 755.67 L1260.36 749.23 L1243.98 749.23 L1243.98 742.79 L1243.98 742.79 L1243.98 736.35 L1227.6 736.35 L1227.6 729.91 L1227.6 729.91 L1227.6 723.46 L1227.6 723.46 L1227.6 717.02 L1227.6 717.02 L1227.6 710.58 L1227.6 710.58 L1227.6 704.14 L1227.6 704.14 L1227.6 697.69 L1227.6 697.69 L1227.6 691.25 L1243.98 691.25 L1243.98 684.81 L1243.98 684.81 L1243.98 678.37 L1260.36 678.37 L1260.36 671.93 L1276.74 671.93 L1276.74 665.48 L1293.12 665.48 L1293.12 659.04 L1325.87 659.04 L1325.87 652.6Z" fill="url(#p13)"/>
<path d="M1448.69 802.6 L1448.69 809.15 L1481.55 809.15 L1481.55 815.69 L1497.97 815.69 L1497.97 822.24 L1497.97 822.24 L1497.97 828.79 L1514.4 828.79 L1514.4 835.33 L1514.4 835.33 L1514.4 841.88 L1514.4 841.88 L1514.4 848.43 L1514.4 848.43 L1514.4 854.97 L1514.4 854.97 L1514.4 861.52 L1514.4 861.52 L1514.4 868.07 L1514.4 868.07 L1514.4 874.61 L1497.97 874.61 L1497.97 881.16 L1497.97 881.16 L1497.97 887.71 L1481.55 887.71 L1481.55 894.25 L1448.69 894.25 L1448.69 900.8 L1333.71 900.8 L1333.71 894.25 L1300.85 894.25 L1300.85 887.71 L1284.43 887.71 L1284.43 881.16 L1284.43 881.16 L1284.43 874.61 L1268 874.61 L1268 868.07 L1268 868.07 L1268 861.52 L1268 861.52 L1268 854.97 L1268 854.97 L1268 848.43 L1268 848.43 L1268 841.88 L1268 841.88 L1268 835.33 L1268 835.33 L1268 828.79 L1284.43 828.79 L1284.43 822.24 L1284.43 822.24 L1284.43 815.69 L1300.85 815.69 L1300.85 809.15 L1333.71 809.15 L1333.71 802.6Z" fill="#FF5C5C"/>
<path d="M1448.69 802.6 L1448.69 809.15 L1481.55 809.15 L1481.55 815.69 L1497.97 815.69 L1497.97 822.24 L1497.97 822.24 L1497.97 828.79 L1514.4 828.79 L1514.4 835.33 L1514.4 835.33 L1514.4 841.88 L1514.4 841.88 L1514.4 848.43 L1514.4 848.43 L1514.4 854.97 L1514.4 854.97 L1514.4 861.52 L1514.4 861.52 L1514.4 868.07 L1514.4 868.07 L1514.4 874.61 L1497.97 874.61 L1497.97 881.16 L1497.97 881.16 L1497.97 887.71 L1481.55 887.71 L1481.55 894.25 L1448.69 894.25 L1448.69 900.8 L1333.71 900.8 L1333.71 894.25 L1300.85 894.25 L1300.85 887.71 L1284.43 887.71 L1284.43 881.16 L1284.43 881.16 L1284.43 874.61 L1268 874.61 L1268 868.07 L1268 868.07 L1268 861.52 L1268 861.52 L1268 854.97 L1268 854.97 L1268 848.43 L1268 848.43 L1268 841.88 L1268 841.88 L1268 835.33 L1268 835.33 L1268 828.79 L1284.43 828.79 L1284.43 822.24 L1284.43 822.24 L1284.43 815.69 L1300.85 815.69 L1300.85 809.15 L1333.71 809.15 L1333.71 802.6Z" fill="url(#p14)"/>
<path d="M1411.8 957.9 L1411.8 964.46 L1444.73 964.46 L1444.73 971.01 L1444.73 971.01 L1444.73 977.57 L1461.2 977.57 L1461.2 984.12 L1461.2 984.12 L1461.2 990.68 L1461.2 990.68 L1461.2 997.23 L1444.73 997.23 L1444.73 1003.79 L1444.73 1003.79 L1444.73 1010.34 L1411.8 1010.34 L1411.8 1016.9 L1362.4 1016.9 L1362.4 1010.34 L1329.47 1010.34 L1329.47 1003.79 L1329.47 1003.79 L1329.47 997.23 L1313 997.23 L1313 990.68 L1313 990.68 L1313 984.12 L1313 984.12 L1313 977.57 L1329.47 977.57 L1329.47 971.01 L1329.47 971.01 L1329.47 964.46 L1362.4 964.46 L1362.4 957.9Z" fill="#FF5C5C"/>
<path d="M1411.8 957.9 L1411.8 964.46 L1444.73 964.46 L1444.73 971.01 L1444.73 971.01 L1444.73 977.57 L1461.2 977.57 L1461.2 984.12 L1461.2 984.12 L1461.2 990.68 L1461.2 990.68 L1461.2 997.23 L1444.73 997.23 L1444.73 1003.79 L1444.73 1003.79 L1444.73 1010.34 L1411.8 1010.34 L1411.8 1016.9 L1362.4 1016.9 L1362.4 1010.34 L1329.47 1010.34 L1329.47 1003.79 L1329.47 1003.79 L1329.47 997.23 L1313 997.23 L1313 990.68 L1313 990.68 L1313 984.12 L1313 984.12 L1313 977.57 L1329.47 977.57 L1329.47 971.01 L1329.47 971.01 L1329.47 964.46 L1362.4 964.46 L1362.4 957.9Z" fill="url(#p15)"/>
<text x="1601.5" y="117.4" font-family='"Liberation Serif", serif' font-size="36.2">z</text>
<line x1="1589.6" y1="1057.3" x2="1589.6" y2="141" stroke="#000" stroke-width="3"/>
<polygon points="1589.6,131.6 1594.9,141.9 1584.3,141.9" fill="#000"/>
<text x="1611.4" y="170" font-family='"Liberation Serif", serif' font-size="36.2">19 nm</text>
<text x="1611.4" y="310.2" font-family='"Liberation Serif", serif' font-size="36.2">16 nm</text>
<text x="1611.4" y="450.7" font-family='"Liberation Serif", serif' font-size="36.2">13 nm</text>
<text x="1611.4" y="590.9" font-family='"Liberation Serif", serif' font-size="36.2">10 nm</text>
<text x="1610.6" y="731.1" font-family='"Liberation Serif", serif' font-size="36.2">7 nm</text>
<text x="1610.6" y="871.2" font-family='"Liberation Serif", serif' font-size="36.2">4 nm</text>
<text x="1610.6" y="1011.4" font-family='"Liberation Serif", serif' font-size="36.2">1 nm</text>
<text x="1293.4" y="1099.1" font-family='"Liberation Serif", serif' font-size="36.6">ix: 20 mT/μ<tspan font-size="24.16" dy="7.32">0</tspan></text>
<!-- panel_axes -->
<line x1="1231.8" y1="1272" x2="1231.8" y2="1183" stroke="#000" stroke-width="2.6"/>
<polygon points="1231.8,1174.3 1236.8,1184.3 1226.8,1184.3" fill="#000"/>
<line x1="1244.8" y1="1285" x2="1333" y2="1285" stroke="#000" stroke-width="2.6"/>
<polygon points="1341.8,1285 1331.3,1279.7 1331.3,1290.3" fill="#000"/>
<circle cx="1231.8" cy="1285" r="13.2" fill="#fff" stroke="#000" stroke-width="3"/>
<circle cx="1231.8" cy="1285" r="5.3" fill="#000"/>
<text x="1204.5" y="1189.2" font-family='"Liberation Serif", serif' font-size="36">y</text>
<text x="1327.2" y="1312.3" font-family='"Liberation Serif", serif' font-size="36">x</text>
<text x="1195.2" y="1319.5" font-family='"Liberation Serif", serif' font-size="36">z</text>
<rect x="1413.5" y="1191.5" width="262.4" height="49.4" fill="url(#cb)" stroke="#1a1a1a" stroke-width="1.5"/>
<text x="1401.4" y="1275.6" font-family='"Liberation Serif", serif' font-size="36">-1</text>
<text x="1644.2" y="1275.6" font-family='"Liberation Serif", serif' font-size="36">+1</text>
<text x="1525" y="1294.4" font-family='"Liberation Serif", serif' font-size="36">m<tspan font-size="24" dy="8.6">z</tspan></text>
</svg>
</body></html>
